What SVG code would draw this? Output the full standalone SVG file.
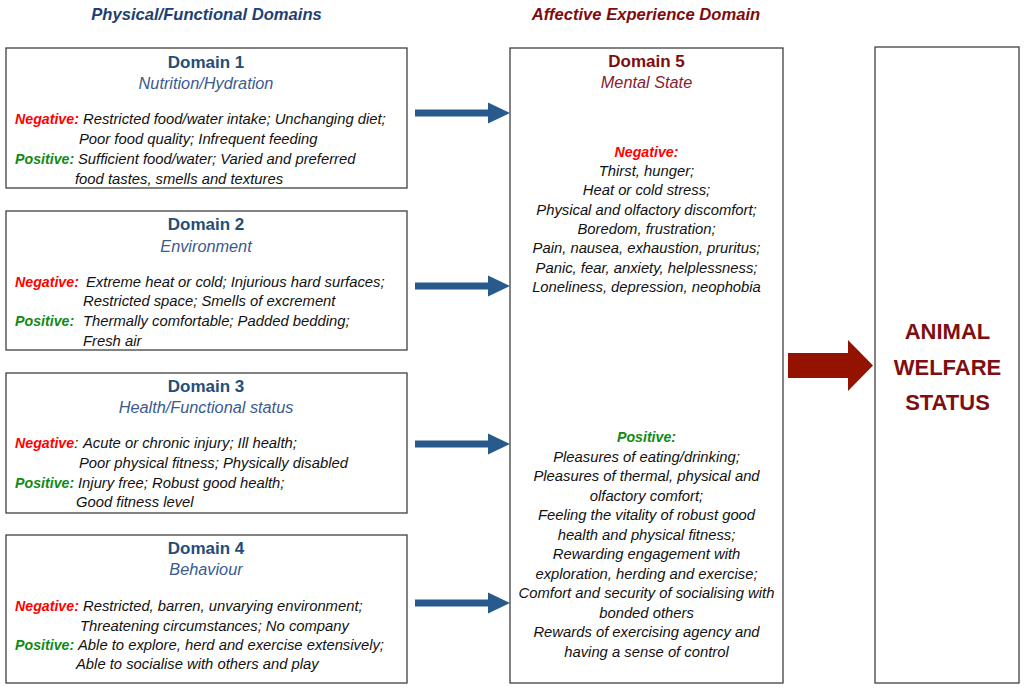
<svg xmlns="http://www.w3.org/2000/svg" width="1024" height="688" viewBox="0 0 1024 688">
<style>
text{font-family:"Liberation Sans",Arial,sans-serif;}
.box{fill:#fff;stroke:#404040;stroke-width:1.3;}
.hdrB{font-size:16.6px;font-weight:bold;font-style:italic;fill:#1F3F73;text-anchor:middle;}
.hdrR{font-size:16.6px;font-weight:bold;font-style:italic;fill:#7F0C0C;text-anchor:middle;}
.title{font-size:17px;font-weight:bold;fill:#1F4E79;text-anchor:middle;}
.sub{font-size:16.3px;font-style:italic;fill:#3A5A90;text-anchor:middle;}
.title5{font-size:17px;font-weight:bold;fill:#7F0C0C;text-anchor:middle;}
.sub5{font-size:16.3px;font-style:italic;fill:#8A2030;text-anchor:middle;}
.body{font-size:14.8px;font-style:italic;fill:#111;}
.mid{text-anchor:middle;}
.neg{font-size:14.2px;font-weight:bold;font-style:italic;fill:#FF0000;}
.pos{font-size:14.2px;font-weight:bold;font-style:italic;fill:#118A11;}
.aws{font-size:22px;font-weight:bold;fill:#800E0E;text-anchor:middle;}
.barrow{fill:#285A8E;}
.rarrow{fill:#941200;}
</style>

<text class="hdrB" x="206.5" y="20">Physical/Functional Domains</text>
<text class="hdrR" x="646" y="20">Affective Experience Domain</text>

<g id="domain1">
<rect class="box" x="6" y="48" width="401" height="140"/>
<text class="title" x="206" y="68">Domain 1</text>
<text class="sub" x="206" y="89">Nutrition/Hydration</text>
<text class="neg" x="15" y="124">Negative:</text>
<text class="body" x="83" y="124">Restricted food/water intake; Unchanging diet;</text>
<text class="body" x="79" y="144">Poor food quality; Infrequent feeding</text>
<text class="pos" x="15" y="164">Positive:</text>
<text class="body" x="78" y="164">Sufficient food/water; Varied and preferred</text>
<text class="body" x="75" y="183.5">food tastes, smells and textures</text>
</g>

<g id="domain2">
<rect class="box" x="6" y="211" width="401" height="139"/>
<text class="title" x="206" y="230">Domain 2</text>
<text class="sub" x="206" y="252">Environment</text>
<text class="neg" x="15" y="287">Negative:</text>
<text class="body" x="86" y="287">Extreme heat or cold; Injurious hard surfaces;</text>
<text class="body" x="83" y="306">Restricted space; Smells of excrement</text>
<text class="pos" x="15" y="326">Positive:</text>
<text class="body" x="83" y="326">Thermally comfortable; Padded bedding;</text>
<text class="body" x="83" y="346">Fresh air</text>
</g>

<g id="domain3">
<rect class="box" x="6" y="373" width="401" height="140"/>
<text class="title" x="206" y="392">Domain 3</text>
<text class="sub" x="206" y="413">Health/Functional status</text>
<text x="15" y="448"><tspan class="neg">Negative</tspan><tspan class="body">:</tspan></text>
<text class="body" x="83" y="448">Acute or chronic injury; Ill health;</text>
<text class="body" x="79" y="468">Poor physical fitness; Physically disabled</text>
<text class="pos" x="15" y="488">Positive:</text>
<text class="body" x="78" y="488">Injury free; Robust good health;</text>
<text class="body" x="76" y="507">Good fitness level</text>
</g>

<g id="domain4">
<rect class="box" x="6" y="535" width="401" height="148"/>
<text class="title" x="206" y="554">Domain 4</text>
<text class="sub" x="206" y="575">Behaviour</text>
<text class="neg" x="15" y="611">Negative:</text>
<text class="body" x="83" y="611">Restricted, barren, unvarying environment;</text>
<text class="body" x="80" y="631">Threatening circumstances; No company</text>
<text class="pos" x="15" y="650">Positive:</text>
<text class="body" x="78" y="650">Able to explore, herd and exercise extensively;</text>
<text class="body" x="76" y="669">Able to socialise with others and play</text>
</g>

<g id="domain5">
<rect class="box" x="510" y="48" width="273" height="635"/>
<text class="title5" x="646.5" y="67">Domain 5</text>
<text class="sub5" x="646.5" y="88">Mental State</text>
<text class="neg mid" x="646.5" y="157">Negative:</text>
<g class="body mid">
<text x="646.5" y="176">Thirst, hunger;</text>
<text x="646.5" y="195">Heat or cold stress;</text>
<text x="646.5" y="214.5">Physical and olfactory discomfort;</text>
<text x="646.5" y="234">Boredom, frustration;</text>
<text x="646.5" y="253">Pain, nausea, exhaustion, pruritus;</text>
<text x="646.5" y="272.5">Panic, fear, anxiety, helplessness;</text>
<text x="646.5" y="292">Loneliness, depression, neophobia</text>
</g>
<text class="pos mid" x="646.5" y="442">Positive:</text>
<g class="body mid">
<text x="646.5" y="461.5">Pleasures of eating/drinking;</text>
<text x="646.5" y="481">Pleasures of thermal, physical and</text>
<text x="646.5" y="500.5">olfactory comfort;</text>
<text x="646.5" y="520">Feeling the vitality of robust good</text>
<text x="646.5" y="539.5">health and physical fitness;</text>
<text x="646.5" y="559">Rewarding engagement with</text>
<text x="646.5" y="578.5">exploration, herding and exercise;</text>
<text x="646.5" y="598">Comfort and security of socialising with</text>
<text x="646.5" y="617.5">bonded others</text>
<text x="646.5" y="637">Rewards of exercising agency and</text>
<text x="646.5" y="656.5">having a sense of control</text>
</g>
</g>

<g id="welfare">
<rect class="box" x="875" y="47" width="144" height="636"/>
<text class="aws" x="947.5" y="339">ANIMAL</text>
<text class="aws" x="947.5" y="374.5">WELFARE</text>
<text class="aws" x="947.5" y="410">STATUS</text>
</g>

<g id="connectors">
<polygon class="barrow" points="415,109.5 488,109.5 488,102.5 510,113 488,123.5 488,116.5 415,116.5"/>
<polygon class="barrow" points="415,282.5 488,282.5 488,275.5 510,286 488,296.5 488,289.5 415,289.5"/>
<polygon class="barrow" points="415,440.5 488,440.5 488,433.5 510,444 488,454.5 488,447.5 415,447.5"/>
<polygon class="barrow" points="415,599.5 488,599.5 488,592.5 510,603 488,613.5 488,606.5 415,606.5"/>
<polygon class="rarrow" points="788,353 848,353 848,340 873,365.5 848,391 848,378 788,378"/>
</g>
</svg>
